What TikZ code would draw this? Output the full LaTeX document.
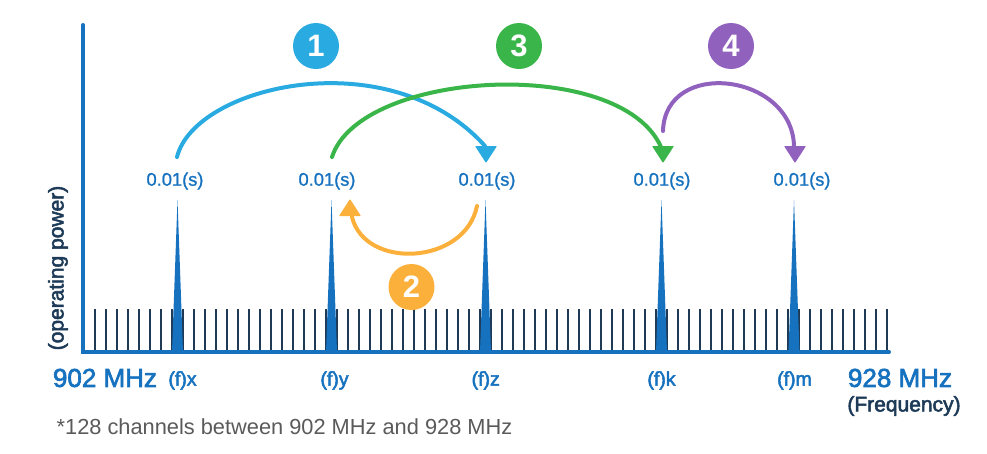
\documentclass[tikz,border=0pt]{standalone}
\usepackage{fontspec}
\setmainfont{Liberation Sans}
\newfontfamily\medfont{Liberation Sans}[FakeBold=2.5]
\newfontfamily\lightmedfont{Liberation Sans}[FakeBold=1.2]
\usetikzlibrary{calc}
\definecolor{axisblue}{HTML}{1672BF}
\definecolor{ticknavy}{HTML}{1E3A56}
\definecolor{darknavy}{HTML}{1D3A57}
\definecolor{footgray}{HTML}{5A5A5A}
\definecolor{cblue}{HTML}{29ABE2}
\definecolor{corange}{HTML}{FBB03B}
\definecolor{cgreen}{HTML}{3AB54A}
\definecolor{cpurple}{HTML}{9161BE}
\tikzset{
  axisline/.style={draw=axisblue, line width=4pt, line cap=round, line join=miter},
  tickline/.style={draw=ticknavy, line width=1.9pt},
  peakshape/.style={fill=axisblue},
  timelabel/.style={text=axisblue, inner sep=0pt, font=\lightmedfont\fontsize{18.3}{21}\selectfont},
  freqlabel/.style={text=axisblue, inner sep=0pt, font=\medfont\fontsize{19.5}{22}\selectfont},
  endlabel/.style={text=axisblue, inner sep=0pt, font=\medfont\fontsize{26}{30}\selectfont},
  navylabel/.style={text=darknavy, inner sep=0pt, font=\medfont\fontsize{21}{24}\selectfont},
  numcirc/.style={circle, minimum size=46pt, inner sep=0pt, text=white, font=\bfseries\fontsize{31}{31}\selectfont},
  hopline/.style={line width=4pt, line cap=round},
  headfill/.style={rounded corners=0.8pt}
}
\newcommand\headdown[2]{\fill[#1,headfill] (#2) -- ++(11,-17) -- ++(-22,0) -- cycle;}
\newcommand\headup[2]{\fill[#1,headfill] (#2) -- ++(11,17) -- ++(-22,0) -- cycle;}
\begin{document}
\begin{tikzpicture}[x=1pt,y=-1pt]
\path[use as bounding box] (0,0) rectangle (987,453);

% channel ticks
\foreach \k in {0,...,72}
  \draw[tickline] ({95+11*\k},309) -- ({95+11*\k},352);

% axes
\draw[axisline] (83,25) -- (83,352) -- (889,352);

% peaks
\foreach \p in {177.5,331.5,485.5,661.5,794}
  \fill[peakshape] (\p,200) -- ({\p+5.5},352) -- ({\p-5.5},352) -- cycle;

% time labels
\node[timelabel] (s1) at (175,181) {0.01(s)};
\node[timelabel] (s2) at (327,181) {0.01(s)};
\node[timelabel] (s3) at (487,181) {0.01(s)};
\node[timelabel] (s4) at (662,181) {0.01(s)};
\node[timelabel] (s5) at (802,181) {0.01(s)};

% frequency labels
\node[endlabel] (lo) at (105,378) {902 MHz};
\node[freqlabel] (fx) at (182.5,380.5) {(f)x};
\node[freqlabel] (fy) at (334.5,380.5) {(f)y};
\node[freqlabel] (fz) at (485.7,380.5) {(f)z};
\node[freqlabel] (fk) at (661.5,380.5) {(f)k};
\node[freqlabel] (fm) at (794.5,380.5) {(f)m};
\node[endlabel] (hi) at (900,378) {928 MHz};
\node[navylabel] (freq) at (904,406) {(Frequency)};
\node[navylabel, rotate=90] (power) at (58,268) {(operating power)};
\node[text=footgray, inner sep=0pt, font=\fontsize{21.8}{24}\selectfont] (note) at (284.5,427) {*128 channels between 902 MHz and 928 MHz};

% step circles
\node[numcirc, fill=cblue] (n1) at (316,46) {1};
\node[numcirc, fill=corange] (n2) at (411.5,287) {2};
\node[numcirc, fill=cgreen] (n3) at (519,46) {3};
\node[numcirc, fill=cpurple] (n4) at (731,46) {4};

% hop endpoints
\coordinate (a1) at (177,157);
\coordinate (e1) at (485,146);
\coordinate (t1) at (486,163);
\coordinate (a3) at (332,157);
\coordinate (e3) at (661,147);
\coordinate (t3) at (663,163);
\coordinate (a4) at (663,131);
\coordinate (e4) at (794,146);
\coordinate (t4) at (795,163);
\coordinate (a2) at (477,206);
\coordinate (e2) at (352,217);
\coordinate (t2) at (350,199);

% hop 1 (blue)
\draw[hopline, cblue] (a1) .. controls (195,85) and (390,40) .. (e1);
\headdown{cblue}{t1}
% hop 3 (green)
\draw[hopline, cgreen] (a3) .. controls (360,70) and (620,55) .. (e3);
\headdown{cgreen}{t3}
% hop 4 (purple)
\draw[hopline, cpurple] (a4) .. controls (665,58) and (792,73) .. (e4);
\headdown{cpurple}{t4}
% hop 2 (orange)
\draw[hopline, corange] (a2) .. controls (465,265) and (365,270) .. (e2);
\headup{corange}{t2}
\end{tikzpicture}
\end{document}
